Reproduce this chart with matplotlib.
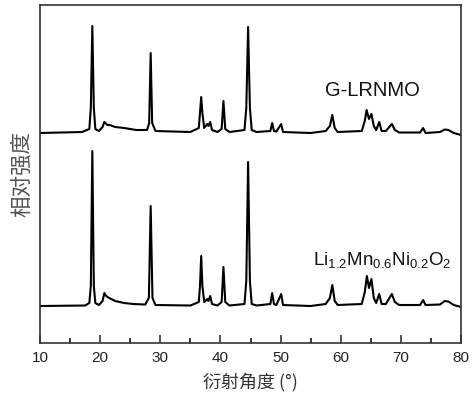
import matplotlib
matplotlib.use("Agg")
import matplotlib.pyplot as plt
from matplotlib.ticker import MultipleLocator

plt.rcParams['font.family'] = ['Liberation Sans', 'Noto Sans CJK SC', 'DejaVu Sans']
plt.rcParams['mathtext.fontset'] = 'custom'
plt.rcParams['mathtext.rm'] = 'Liberation Sans'

# 2-theta (deg) and relative intensity for each pattern (baseline ~ 0)
two_theta_pristine = [10, 17.5, 18.2, 18.45, 18.7, 18.95, 19.2, 19.8, 20.4, 20.7, 21.0, 21.5, 22.5, 24, 25.5, 27.5,
                      28.1, 28.4, 28.7, 29.2, 35, 36.4, 36.6, 36.8, 37.0, 37.3, 37.8, 38.0, 38.3, 38.6, 39.5,
                      40.2, 40.5, 40.8, 41.5, 44.0, 44.3, 44.6, 44.9, 45.2, 46, 48.3, 48.6, 48.9, 49.3, 50.1,
                      50.4, 55, 57.5, 58.2, 58.6, 59.0, 59.5, 63.5, 64.0, 64.35, 64.7, 65.1, 65.5, 65.9, 66.4,
                      66.8, 67.5, 68.5, 69.0, 69.7, 73.2, 73.7, 74.1, 76.5, 77.3, 77.9, 78.8, 80]
intensity_pristine = [0, 0.5, 3, 20, 155, 20, 3, 1, 5, 13, 10, 8, 5, 3, 2, 1.5,
                      8, 100, 8, 1, 0.5, 4, 20, 50, 20, 4, 7, 5, 10, 2, 0.5,
                      4, 39, 4, 0.5, 2, 25, 144, 25, 2, 0.5, 2, 13, 2, 1, 12,
                      1, 0, 2, 8, 21, 5, 1, 2, 14, 30, 18, 27, 8, 3, 12,
                      2, 2, 12, 4, 1, 1, 6, 1, 1.5, 5, 4.5, 1, -1]

two_theta_coated = [10, 17.0, 18.2, 18.45, 18.7, 18.95, 19.2, 19.8, 20.4, 20.7, 21.2, 21.6, 22.5, 24, 25, 26, 27.8,
                    28.15, 28.4, 28.65, 29.2, 35, 36.4, 36.6, 36.8, 37.0, 37.3, 37.8, 38.0, 38.3, 38.6, 39.5,
                    40.2, 40.5, 40.8, 41.5, 44.0, 44.3, 44.6, 44.9, 45.2, 46, 48.3, 48.6, 48.9, 49.3, 50.1,
                    50.4, 55, 57.5, 58.2, 58.6, 59.0, 59.5, 63.5, 64.0, 64.3, 64.7, 65.1, 65.5, 65.9, 66.4,
                    66.8, 67.5, 68.5, 69.0, 69.7, 73.2, 73.7, 74.1, 76.5, 77.3, 77.9, 78.8, 80]
intensity_coated = [0, 1, 4, 25, 107, 25, 4, 2, 6, 11, 8, 8, 6, 5, 4, 3, 3,
                    10, 80, 10, 2, 1, 5, 20, 36, 20, 5, 9, 7, 11, 3, 1,
                    4, 32, 4, 1, 3, 25, 106, 25, 3, 1, 2, 10, 2, 1.5, 9,
                    1, 0, 2, 7, 18, 5, 1, 2, 12, 23, 14, 19, 7, 3, 11,
                    2, 2, 9, 3, 0.5, 0.5, 5, 0, 1, 3.5, 3, 0, -2]

offset_pristine = 37
offset_coated = 210

label_coated = "G-LRNMO"
label_pristine = r"$\mathrm{Li_{1.2}Mn_{0.6}Ni_{0.2}O_2}$"
xlabel = "衍射角度 (°)"
ylabel = "相对强度"
xticks = [10, 20, 30, 40, 50, 60, 70, 80]

fig = plt.figure(figsize=(4.74, 3.97), dpi=100)
ax = fig.add_axes([0.0844, 0.136, 0.8882, 0.8514])

ax.plot(two_theta_coated, [v + offset_coated for v in intensity_coated], color='black', lw=1.5)
ax.plot(two_theta_pristine, [v + offset_pristine for v in intensity_pristine], color='black', lw=1.5)

ax.set_xlim(10, 80)
ax.set_ylim(0, 338)
ax.set_xticks(xticks)
ax.xaxis.set_minor_locator(MultipleLocator(5))
ax.tick_params(axis='x', which='major', direction='in', length=6, width=1.1, labelsize=11, pad=6, colors='#222222')
ax.tick_params(axis='x', which='minor', direction='in', length=3.5, width=1.1)
ax.set_yticks([])
for s in ax.spines.values():
    s.set_linewidth(1.2)
    s.set_color('#333333')

ax.text(65.2, 253, label_coated, fontsize=14.5, ha='center', va='center', color='#111111')
ax.text(66.9, 83, label_pristine, fontsize=13.5, ha='center', va='center', color='#111111')

ax.set_xlabel(xlabel, fontsize=13, color='#333333', labelpad=5, family=['Noto Sans CJK SC', 'DejaVu Sans'])
ax.set_ylabel(ylabel, fontsize=15.5, color='#555555', labelpad=5, family=['Noto Sans CJK SC', 'DejaVu Sans'],
              fontweight='light')

fig.savefig("out.png", dpi=100)
